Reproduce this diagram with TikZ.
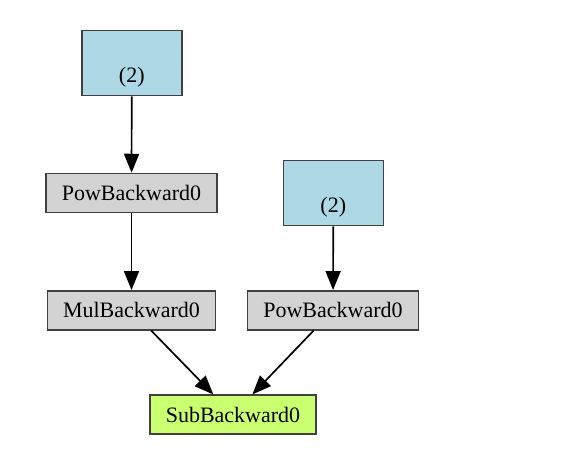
\documentclass[tikz,border=0pt]{standalone}
\usepackage{xcolor}
\usepackage{fontspec}
\setmainfont{Liberation Serif}
\usetikzlibrary{arrows.meta}

\definecolor{leafblue}{RGB}{173,216,230}
\definecolor{opgray}{RGB}{211,211,211}
\definecolor{rootgreen}{RGB}{202,255,112}

\begin{document}
\begin{tikzpicture}[
		x=1pt, y=-1pt,
		every node/.style = {draw=black!75, line width=1.5pt, inner sep=0pt,
			font=\fontsize{22}{26}\selectfont, align=center},
		leaf/.style = {fill=leafblue, minimum width=100pt, minimum height=65pt},
		op/.style = {fill=opgray, minimum height=39pt},
		root/.style = {fill=rootgreen, minimum width=166pt, minimum height=39pt},
		edge/.style = {draw=black, line width=1.7pt, -{Triangle[length=19pt,width=15pt]}}
	]
	% page size
	\useasboundingbox (0,0) rectangle (583,453);
	
	% the graph nodes
	\node[leaf] (leafA) at (131.8,63) {\strut\\(2)};
	\node[op, minimum width=171pt] (powA) at (131.5,193) {PowBackward0};
	\node[leaf] (leafB) at (333.3,193) {\strut\\(2)};
	\node[op, minimum width=168pt] (mul) at (131.5,310.3) {MulBackward0};
	\node[op, minimum width=171pt] (powB) at (333,310.3) {PowBackward0};
	\node[root] (sub) at (233,414.7) {SubBackward0};
	
	% the edges
	\draw[edge] (leafA) -- (powA);
	\draw[edge] (powA) -- (mul);
	\draw[edge] (leafB) -- (powB);
	\draw[edge] (mul) -- (sub);
	\draw[edge] (powB) -- (sub);
	
\end{tikzpicture}
\end{document}
